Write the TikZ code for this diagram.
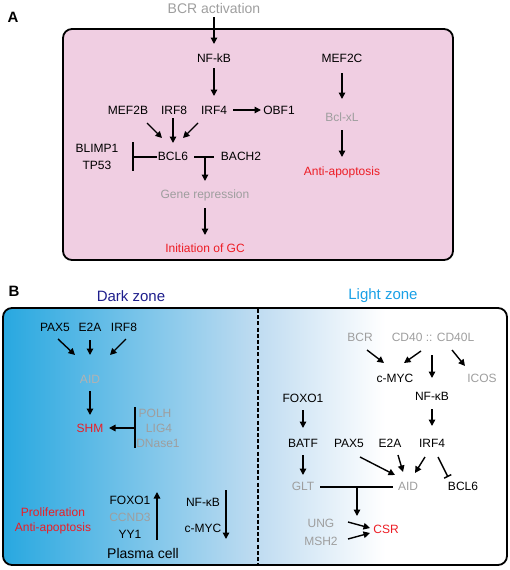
\documentclass[tikz,border=0pt]{standalone}
\usepackage{fontspec}
\setmainfont{Liberation Sans}
\usetikzlibrary{arrows.meta,calc}
\definecolor{pinkbg}{RGB}{240,206,226}
\definecolor{txtgray}{RGB}{158,158,158}
\definecolor{txtred}{RGB}{237,28,36}
\definecolor{darkz}{RGB}{30,30,140}
\definecolor{lightz}{RGB}{25,160,230}
\definecolor{blueL}{RGB}{40,168,224}
\definecolor{blueM}{RGB}{192,220,241}
\begin{document}
\begin{tikzpicture}[x=1pt,y=-1pt,
  every node/.style={font=\fontsize{12}{14}\selectfont, inner sep=1pt},
  g/.style={text=txtgray},
  r/.style={text=txtred},
  big/.style={font=\fontsize{14}{16}\selectfont},
  ttl/.style={font=\fontsize{15}{17}\selectfont},
  lbl/.style={font=\fontsize{15}{17}\selectfont\bfseries},
  arr/.style={line width=1.4pt,-{Triangle[length=6.5pt,width=6.5pt]}},
  ln/.style={line width=1.4pt},
  inh/.style={line width=1.4pt,-{Bar[width=8pt,line width=1.4pt]}},
  boxline/.style={line width=1.8pt, rounded corners=9pt}
]
\useasboundingbox (0,0) rectangle (510,570);

% ---------- Panel A ----------
\draw[boxline, fill=pinkbg] (63,29) rectangle (453,260);
\node[lbl] (labA) at (13,17) {A};
\node[g,big] (bcr) at (214,8) {BCR activation};
\node (nfkbA) at (214,58) {NF-kB};
\node (mef2c) at (342,58) {MEF2C};
\node[g] (bclxl) at (342,117) {Bcl-xL};
\node[r] (antiA) at (342,172) {Anti-apoptosis};
\node (mef2b) at (128,110) {MEF2B};
\node (irf8A) at (174,110) {IRF8};
\node (irf4A) at (214,110) {IRF4};
\node (obf1) at (279,110) {OBF1};
\node (bcl6A) at (173,156) {BCL6};
\node (blimp) at (97,148) {BLIMP1};
\node (tp53) at (97,165) {TP53};
\node (bach2) at (241,156) {BACH2};
\node[g] (gene) at (205,195) {Gene repression};
\node[r] (initgc) at (205,248) {Initiation of GC};

\draw[arr] ($(bcr)+(0,9)$) -- ($(nfkbA)+(0,-14)$);
\draw[arr] ($(nfkbA)+(0,10)$) -- ($(irf4A)+(0,-14)$);
\draw[arr] ($(irf4A)+(19,0)$) -- ($(obf1)+(-18,0)$);
\draw[arr] ($(mef2c)+(0,15)$) -- ($(bclxl)+(0,-18)$);
\draw[arr] ($(bclxl)+(0,13)$) -- ($(antiA)+(0,-15)$);
\draw[arr] ($(mef2b)+(19,13)$) -- ($(bcl6A)+(-11,-18)$);
\draw[arr] ($(irf8A)+(-1,8)$) -- ($(bcl6A)+(0,-13)$);
\draw[arr] ($(irf4A)+(-16,13)$) -- ($(bcl6A)+(10,-18)$);
\coordinate (barA) at (133,157);
\draw[ln] ($(bcl6A)+(-16,1)$) -- (barA);
\draw[ln] ($(barA)+(0,-15)$) -- ($(barA)+(0,14)$);
\coordinate (tA) at (205,157);
\draw[ln] ($(tA)+(-11,0)$) -- ($(tA)+(9,0)$);
\draw[arr] (tA) -- ($(gene)+(0,-14)$);
\draw[arr] ($(gene)+(0,13)$) -- ($(initgc)+(0,-13)$);

% ---------- Panel B ----------
\begin{scope}
\clip[rounded corners=9pt] (3,308) rectangle (507,565);
\fill[left color=blueL,right color=blueM] (3,308) rectangle (258,565);
\fill[left color=blueM,right color=white] (258,308) rectangle (385,565);
\end{scope}
\draw[boxline] (3,308) rectangle (507,565);
\draw[line width=1.5pt, dash pattern=on 4pt off 2.2pt] (258,309) -- (258,564);

\node[lbl] (labB) at (14,291) {B};
\node[ttl, text=darkz] (dark) at (131,296) {Dark zone};
\node[ttl, text=lightz] (light) at (383,296) {Light zone};

% dark zone
\node (pax5B) at (55,327) {PAX5};
\node (e2aB) at (90,327) {E2A};
\node (irf8B) at (124,327) {IRF8};
\node[text={rgb,255:red,178;green,178;blue,178}] (aidL) at (90,379) {AID};
\node[r] (shm) at (90,428) {SHM};
\node[g] (polh) at (155,413) {POLH};
\node[g] (lig4) at (159,428) {LIG4};
\node[g] (dnase) at (158,443) {DNase1};
\node[r] (prolif) at (53,512) {Proliferation};
\node[r] (antiB) at (53,528) {Anti-apoptosis};
\node (foxoL) at (130,500) {FOXO1};
\node[g] (ccnd3) at (130,517) {CCND3};
\node (yy1) at (130,534) {YY1};
\node (nfkbL) at (203,502) {NF-κB};
\node (cmycL) at (203,528) {c-MYC};
\node[big] (plasma) at (143,553) {Plasma cell};

\draw[arr] ($(pax5B)+(3,12)$) -- ($(aidL)+(-15,-24)$);
\draw[arr] ($(e2aB)+(0,13)$) -- ($(aidL)+(0,-24)$);
\draw[arr] ($(irf8B)+(2,12)$) -- ($(aidL)+(20,-24)$);
\draw[arr] ($(aidL)+(0,12)$) -- ($(shm)+(0,-13)$);
\coordinate (barB) at (135,428);
\draw[ln] ($(barB)+(0,-21)$) -- ($(barB)+(0,20)$);
\draw[arr] (barB) -- ($(shm)+(19,0)$);
\coordinate (upS) at (157,540);
\coordinate (upE) at (157,492);
\draw[arr] (upS) -- (upE);
\coordinate (dnS) at (226,490);
\coordinate (dnE) at (226,539);
\draw[arr] (dnS) -- (dnE);

% light zone
\node[g] (bcrR) at (360,337) {BCR};
\node[g] (cd40) at (433,337) {CD40 :: CD40L};
\node (cmycR) at (395,378) {c-MYC};
\node[g] (icos) at (482,378) {ICOS};
\node (nfkbR) at (432,396) {NF-κB};
\node (foxoR) at (303,398) {FOXO1};
\node (batf) at (303,443) {BATF};
\node (pax5R) at (349,443) {PAX5};
\node (e2aR) at (390,443) {E2A};
\node (irf4R) at (432,443) {IRF4};
\node[g] (glt) at (303,486) {GLT};
\node[g] (aidR) at (408,486) {AID};
\node (bcl6R) at (463,486) {BCL6};
\node[g] (ung) at (321,523) {UNG};
\node[g] (msh2) at (321,541) {MSH2};
\node[r] (csr) at (386,529) {CSR};

\draw[arr] ($(bcrR)+(7,13)$) -- ($(cmycR)+(-11,-15)$);
\draw[arr] ($(cd40)+(-12,14)$) -- ($(cmycR)+(9,-15)$);
\draw[arr] ($(cd40)+(-1,18)$) -- ($(nfkbR)+(0,-18)$);
\draw[arr] ($(cd40)+(19,13)$) -- ($(icos)+(-17,-12)$);
\draw[arr] ($(nfkbR)+(0,13)$) -- ($(irf4R)+(0,-17)$);
\draw[arr] ($(foxoR)+(0,12)$) -- ($(batf)+(0,-15)$);
\draw[arr] ($(batf)+(0,12)$) -- ($(glt)+(0,-11)$);
\draw[arr] ($(pax5R)+(11,14)$) -- ($(aidR)+(-13,-11)$);
\draw[arr] ($(e2aR)+(8,12)$) -- ($(aidR)+(-5,-14)$);
\draw[arr] ($(irf4R)+(-7,14)$) -- ($(aidR)+(7,-13)$);
\draw[inh] ($(irf4R)+(6,14)$) -- ($(bcl6R)+(-15,-9)$);
\draw[ln] ($(glt)+(17,1)$) -- ($(aidR)+(-15,1)$);
\coordinate (jn) at (357,487);
\coordinate (jnE) at (357,516);
\draw[arr] (jn) -- (jnE);
\draw[arr] ($(ung)+(27,-1)$) -- ($(csr)+(-16,-1)$);
\draw[arr] ($(msh2)+(27,-2)$) -- ($(csr)+(-16,4)$);
\end{tikzpicture}
\end{document}
